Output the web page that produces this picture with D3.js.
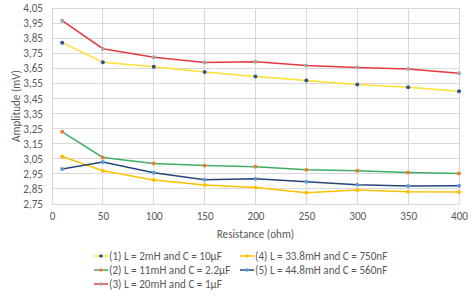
<!DOCTYPE html>
<html lang="en">
<head>
<meta charset="UTF-8">
<title>Amplitude vs Resistance</title>
<script src="https://cdnjs.cloudflare.com/ajax/libs/d3/7.8.5/d3.min.js"></script>
<style>
  body { margin: 0; background: #fff; }
  svg { font-family: Carlito, Lato, "Liberation Sans", sans-serif; }
  .tick text, .axis-title, .legend-text { fill: #595959; }
</style>
</head>
<body>
<div id="chart"></div>
<script>
const resistance = [10, 50, 100, 150, 200, 250, 300, 350, 400];
const xTicks = [0, 50, 100, 150, 200, 250, 300, 350, 400];
const yTicks = [2.75, 2.85, 2.95, 3.05, 3.15, 3.25, 3.35, 3.45, 3.55, 3.65, 3.75, 3.85, 3.95, 4.05];

const seriesNames = [
  "(1) L = 2mH and C = 10\u00b5F",
  "(2) L = 11mH and C = 2.2\u00b5F",
  "(3) L = 20mH and C = 1\u00b5F",
  "(4) L = 33.8mH and C = 750nF",
  "(5) L = 44.8mH and C = 560nF"
];
const s1 = [3.82, 3.69, 3.66, 3.626, 3.595, 3.569, 3.542, 3.525, 3.498];
const s2 = [3.229, 3.059, 3.019, 3.006, 2.997, 2.977, 2.970, 2.959, 2.953];
const s3 = [3.966, 3.78, 3.723, 3.688, 3.694, 3.668, 3.655, 3.646, 3.618];
const s4 = [3.065, 2.97, 2.909, 2.876, 2.86, 2.825, 2.843, 2.832, 2.829];
const s5 = [2.982, 3.028, 2.957, 2.911, 2.918, 2.898, 2.878, 2.869, 2.871];

const lineColors = ["#FFE033", "#3DAE64", "#E8383D", "#FFC000", "#264478"];
const markerColors = ["#2F5597", "#ED7D31", "#A5A5A5", "#FFC000", "#5B9BD5"];

const series = [s1, s2, s3, s4, s5].map((vals, i) => ({
  name: seriesNames[i], values: vals, line: lineColors[i], marker: markerColors[i]
}));

const W = 474, H = 297;
const margin = {left: 52, right: 15, top: 8, bottom: 93};
const svg = d3.select("#chart").append("svg").attr("width", W).attr("height", H);

// pick a font size so the legend text is about as wide as in the picture
const probe = svg.append("text").style("font-size", "12px").text(seriesNames[0]);
const fs = Math.min(13, 12 * 113 / probe.node().getComputedTextLength());
probe.remove();
svg.style("font-size", fs + "px");

const x = d3.scaleLinear().domain([0, 400]).range([margin.left, W - margin.right]);
const y = d3.scaleLinear().domain([2.75, 4.05]).range([H - margin.bottom, margin.top]);

// grid
svg.append("g").selectAll("line.h").data(yTicks).enter().append("line")
  .attr("x1", x(0)).attr("x2", x(400))
  .attr("y1", d => y(d)).attr("y2", d => y(d))
  .attr("stroke", "#D9D9D9").attr("stroke-width", 1).attr("shape-rendering", "crispEdges");
svg.append("g").selectAll("line.v").data(xTicks).enter().append("line")
  .attr("x1", d => x(d)).attr("x2", d => x(d))
  .attr("y1", y(2.75)).attr("y2", y(4.05))
  .attr("stroke", "#D9D9D9").attr("stroke-width", 1).attr("shape-rendering", "crispEdges");

// axes (labels only)
const fmt = d => d3.format(".2f")(d).replace(".", ",");
const yAxis = svg.append("g").attr("transform", `translate(${x(0)},0)`)
  .call(d3.axisLeft(y).tickValues(yTicks).tickFormat(fmt).tickSize(0).tickPadding(9));
yAxis.select(".domain").remove();
const xAxis = svg.append("g").attr("transform", `translate(0,${y(2.75)})`)
  .call(d3.axisBottom(x).tickValues(xTicks).tickSize(0).tickPadding(8));
xAxis.select(".domain").remove();
yAxis.attr("font-family", null).attr("font-size", null);
xAxis.attr("font-family", null).attr("font-size", null);

svg.append("text").attr("class", "axis-title")
  .attr("x", (x(0) + x(400)) / 2).attr("y", 238).attr("text-anchor", "middle")
  .text("Resistance (ohm)");
svg.append("text").attr("class", "axis-title")
  .attr("transform", `translate(20,${(y(2.75) + y(4.05)) / 2}) rotate(-90)`)
  .attr("text-anchor", "middle").text("Amplitude (mV)");

// lines and markers
const line = d3.line().x((d, i) => x(resistance[i])).y(d => y(d));
series.forEach(s => {
  svg.append("path").datum(s.values).attr("d", line)
    .attr("fill", "none").attr("stroke", s.line).attr("stroke-width", 1.5);
  svg.append("g").selectAll("circle").data(s.values).enter().append("circle")
    .attr("cx", (d, i) => x(resistance[i])).attr("cy", d => y(d))
    .attr("r", 2).attr("fill", s.marker);
});

// legend
const legendPos = [[94, 256], [94, 270], [94, 284], [240, 256], [240, 270]];
series.forEach((s, i) => {
  const [lx, ly] = legendPos[i];
  const g = svg.append("g").attr("transform", `translate(${lx},${ly})`);
  g.append("line").attr("x1", 0).attr("x2", 14).attr("y1", 0).attr("y2", 0)
    .attr("stroke", s.line).attr("stroke-width", 1.5);
  g.append("circle").attr("cx", 7).attr("cy", 0).attr("r", 1.8).attr("fill", s.marker);
  g.append("text").attr("class", "legend-text").attr("x", 15).attr("y", 0)
    .attr("dy", "0.35em").text(s.name);
});
</script>
</body>
</html>
